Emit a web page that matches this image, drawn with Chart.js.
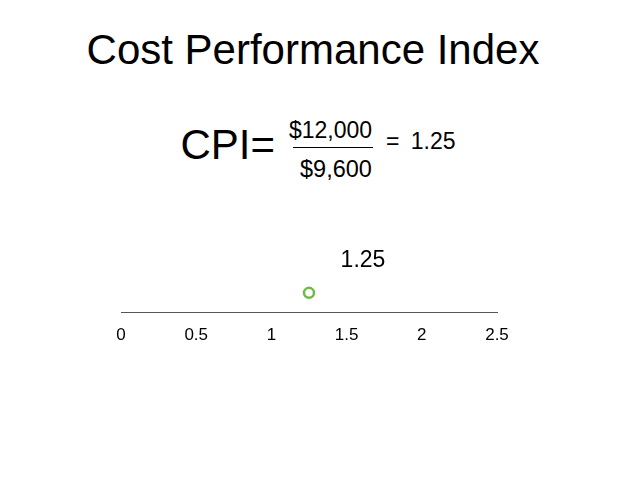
<!DOCTYPE html>
<html>
<head>
<meta charset="utf-8">
<script src="https://cdn.jsdelivr.net/npm/chart.js@4.4.1/dist/chart.umd.min.js"></script>
<style>
  html, body { margin: 0; padding: 0; background: #fff; }
  body { width: 638px; height: 478px; position: relative; overflow: hidden;
         font-family: "Liberation Sans", Arial, sans-serif; color: #000; }
  .t { position: absolute; line-height: 1; white-space: pre; }
  #wrap { position: absolute; left: 0; top: 0; width: 638px; height: 478px; }
  #bar { position: absolute; left: 293px; top: 146.5px; width: 80px; height: 1.5px; background: #000; }
</style>
</head>
<body>
<div class="t" style="left:0;width:626px;text-align:center;top:29.4px;font-size:42px;">Cost Performance Index</div>
<div class="t" style="left:180.5px;top:124.4px;font-size:42px;">CPI=</div>
<div class="t" style="left:288px;width:85px;text-align:center;top:118.8px;font-size:23px;">$12,000</div>
<div id="bar"></div>
<div class="t" style="left:299px;width:74px;text-align:center;top:158.2px;font-size:23.5px;">$9,600</div>
<div class="t" style="left:386px;top:129.5px;font-size:23px;word-spacing:5px;">= 1.25</div>
<div id="wrap"><canvas id="chart"></canvas></div>

<script>
  // values
  const cpiValues = [1.25];
  const cpiLabels = ['1.25'];
  const xMin = 0;
  const xMax = 2.5;
  const xStep = 0.5;

  // draws the value text next to each point
  const valueLabel = {
    id: 'valueLabel',
    afterDatasetsDraw(chart) {
      const ctx = chart.ctx;
      const meta = chart.getDatasetMeta(0);
      ctx.save();
      ctx.font = '23px "Liberation Sans", Arial, sans-serif';
      ctx.fillStyle = '#000';
      ctx.textAlign = 'center';
      ctx.textBaseline = 'alphabetic';
      meta.data.forEach(function (pt, i) {
        ctx.fillText(cpiLabels[i], pt.x + 54, pt.y - 26);
      });
      ctx.restore();
    }
  };

  const ctx = document.getElementById('chart');
  const myChart = new Chart(ctx, {
    type: 'scatter',
    data: {
      datasets: [{
        data: cpiValues.map(function (v) { return { x: v, y: 0.5 }; }),
        pointRadius: 5,
        pointHoverRadius: 5,
        borderWidth: 2.5,
        borderColor: '#6cbb45',
        backgroundColor: '#ffffff'
      }]
    },
    options: {
      responsive: true,
      maintainAspectRatio: false,
      animation: false,
      events: [],
      layout: {
        padding: { left: 121, right: 141, top: 273, bottom: 125.6 }
      },
      plugins: {
        legend: { display: false },
        tooltip: { enabled: false },
        title: { display: false }
      },
      scales: {
        x: {
          type: 'linear',
          min: xMin,
          max: xMax,
          grid: { display: false, drawTicks: false },
          border: { display: true, color: '#555', width: 1 },
          ticks: {
            stepSize: xStep,
            padding: 12,
            color: '#000',
            font: { family: '"Liberation Sans", Arial, sans-serif', size: 17 },
            callback: function (v) { return String(v); }
          }
        },
        y: { display: false, min: 0, max: 1 }
      }
    },
    plugins: [valueLabel]
  });
</script>
</body>
</html>
